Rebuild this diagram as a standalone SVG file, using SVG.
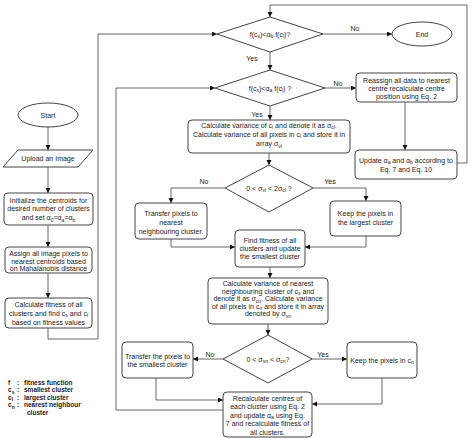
<svg xmlns="http://www.w3.org/2000/svg" width="474" height="438" viewBox="0 0 474 438">
<style>
text{font-family:"Liberation Sans",Arial,sans-serif;font-size:7px;fill:#222;text-anchor:middle}
.sh{fill:#fff;stroke:#444;stroke-width:1}
.ln{fill:none;stroke:#666;stroke-width:1}
.lg{text-anchor:start;font-weight:bold;font-size:6.5px}
.s{font-size:5px}
</style>
<defs>
<marker id="a" markerWidth="6" markerHeight="6" refX="5" refY="2.5" orient="auto" markerUnits="userSpaceOnUse">
<path d="M0,0 L5,2.5 L0,5 z" fill="#111"/>
</marker>
</defs>
<rect width="474" height="438" fill="#fff"/>
<g id="connectors">
<path class="ln" d="M48,127 V150" marker-end="url(#a)"/>
<path class="ln" d="M48,167 V193" marker-end="url(#a)"/>
<path class="ln" d="M48,225 V247" marker-end="url(#a)"/>
<path class="ln" d="M48,273 V298" marker-end="url(#a)"/>
<path class="ln" d="M48,328 V339 H98 V34 H217" marker-end="url(#a)"/>
<path class="ln" d="M323,34 H392" marker-end="url(#a)"/>
<path class="ln" d="M270,52 V70" marker-end="url(#a)"/>
<path class="ln" d="M325,88 H356" marker-end="url(#a)"/>
<path class="ln" d="M405,102 V150" marker-end="url(#a)"/>
<path class="ln" d="M457,163 H467 V5 H270 V17" marker-end="url(#a)"/>
<path class="ln" d="M270,106 V120" marker-end="url(#a)"/>
<path class="ln" d="M269,153 V165" marker-end="url(#a)"/>
<path class="ln" d="M225,188 H171 V203" marker-end="url(#a)"/>
<path class="ln" d="M313,188 H366 V201" marker-end="url(#a)"/>
<path class="ln" d="M171,239 V247 H235" marker-end="url(#a)"/>
<path class="ln" d="M366,236 V247 H305" marker-end="url(#a)"/>
<path class="ln" d="M270,267 V278" marker-end="url(#a)"/>
<path class="ln" d="M268,324 V335" marker-end="url(#a)"/>
<path class="ln" d="M223,359 H193" marker-end="url(#a)"/>
<path class="ln" d="M312,359 H347" marker-end="url(#a)"/>
<path class="ln" d="M156,378 V400 H223" marker-end="url(#a)"/>
<path class="ln" d="M382,378 V404 H312" marker-end="url(#a)"/>
<path class="ln" d="M223,410 H116 V88 H215" marker-end="url(#a)"/>
<text x="355" y="31">No</text>
<text x="252" y="61">Yes</text>
<text x="338" y="86">No</text>
<text x="257" y="117">Yes</text>
<text x="204" y="184">No</text>
<text x="330" y="184">Yes</text>
<text x="210" y="357">No</text>
<text x="323" y="357">Yes</text>
</g>
<g id="start"><ellipse class="sh" cx="48" cy="115" rx="30" ry="12"/><text x="48" y="117.5">Start</text></g>
<g id="upload"><polygon class="sh" points="18,150 93,150 78,167 3,167"/><text x="48" y="161">Upload an Image</text></g>
<g id="init"><rect class="sh" x="4" y="193" width="89" height="32" rx="4"/>
<text x="48.5" y="202.5">Initialize the centroids for</text>
<text x="48.5" y="211">desired number of clusters</text>
<text x="48.5" y="220">and set α<tspan class="s" dy="1.5">0</tspan><tspan dy="-1.5">=α</tspan><tspan class="s" dy="1.5">a</tspan><tspan dy="-1.5">=α</tspan><tspan class="s" dy="1.5">b</tspan></text></g>
<g id="assign"><rect class="sh" x="5" y="247" width="87" height="26" rx="4"/>
<text x="48.5" y="255.5">Assign all image pixels to</text>
<text x="48.5" y="263.5">nearest centroids based</text>
<text x="48.5" y="271">on Mahalanobis distance</text></g>
<g id="fitness"><rect class="sh" x="5" y="298" width="87" height="30" rx="4"/>
<text x="48.5" y="306.5">Calculate fitness of all</text>
<text x="48.5" y="315.5">clusters and find c<tspan class="s" dy="1.5">s</tspan><tspan dy="-1.5"> and c</tspan><tspan class="s" dy="1.5">l</tspan></text>
<text x="48.5" y="325">based on fitness values</text></g>
<g id="d1"><polygon class="sh" points="217,34 270,17 323,34 270,52"/>
<text x="270" y="36.5">f(c<tspan class="s" dy="1.5">s</tspan><tspan dy="-1.5">)&lt;α</tspan><tspan class="s" dy="1.5">b</tspan><tspan dy="-1.5"> f(c</tspan><tspan class="s" dy="1.5">l</tspan><tspan dy="-1.5">)?</tspan></text></g>
<g id="end"><ellipse class="sh" cx="422" cy="34" rx="30" ry="12"/><text x="422" y="36.5">End</text></g>
<g id="d2"><polygon class="sh" points="215,88 270,70 325,88 270,106"/>
<text x="270" y="90.5">f(c<tspan class="s" dy="1.5">s</tspan><tspan dy="-1.5">)&lt;α</tspan><tspan class="s" dy="1.5">a</tspan><tspan dy="-1.5"> f(c</tspan><tspan class="s" dy="1.5">l</tspan><tspan dy="-1.5">) ?</tspan></text></g>
<g id="reassign"><rect class="sh" x="356" y="73" width="101" height="29" rx="4"/>
<text x="406.5" y="82.5">Reassign all data to nearest</text>
<text x="406.5" y="90.5">centre recalculate centre</text>
<text x="406.5" y="99">position using Eq. 2</text></g>
<g id="update"><rect class="sh" x="355" y="150" width="102" height="29" rx="4"/>
<text x="406" y="162.5">Update α<tspan class="s" dy="1.5">a</tspan><tspan dy="-1.5"> and α</tspan><tspan class="s" dy="1.5">b</tspan><tspan dy="-1.5"> according to</tspan></text>
<text x="406" y="171.5">Eq. 7 and Eq. 10</text></g>
<g id="var1"><rect class="sh" x="188" y="120" width="162" height="33" rx="4"/>
<text x="269" y="127.5">Calculate variance of c<tspan class="s" dy="1.5">l</tspan><tspan dy="-1.5"> and denote it as σ</tspan><tspan class="s" dy="1.5">cl</tspan><tspan dy="-1.5">.</tspan></text>
<text x="269" y="136.5">Calculate variance of all pixels in c<tspan class="s" dy="1.5">l</tspan><tspan dy="-1.5"> and store it in</tspan></text>
<text x="269" y="146">array σ<tspan class="s" dy="1.5">vl</tspan></text></g>
<g id="d3"><polygon class="sh" points="225,188 269,165 313,188 269,212"/>
<text x="269" y="190.5">0 &lt; σ<tspan class="s" dy="1.5">vl</tspan><tspan dy="-1.5"> &lt; 2σ</tspan><tspan class="s" dy="1.5">cl</tspan><tspan dy="-1.5"> ?</tspan></text></g>
<g id="transfer1"><rect class="sh" x="135" y="203" width="72" height="36" rx="4"/>
<text x="171" y="215.5">Transfer pixels to</text>
<text x="171" y="224.5">nearest</text>
<text x="171" y="233.5">neighbouring cluster.</text></g>
<g id="keep1"><rect class="sh" x="330" y="201" width="71" height="35" rx="4"/>
<text x="365.5" y="215.5">Keep the pixels in</text>
<text x="365.5" y="224.5">the largest cluster</text></g>
<g id="find"><rect class="sh" x="235" y="230" width="70" height="37" rx="4"/>
<text x="270" y="242.5">Find fitness of all</text>
<text x="270" y="250.5">clusters and update</text>
<text x="270" y="258.5">the smallest cluster</text></g>
<g id="var2"><rect class="sh" x="208" y="278" width="120" height="46" rx="4"/>
<text x="268" y="285.5">Calculate variance of nearest</text>
<text x="268" y="293.5">neighbouring cluster of c<tspan class="s" dy="1.5">s</tspan><tspan dy="-1.5">  and</tspan></text>
<text x="268" y="301">denote it as σ<tspan class="s" dy="1.5">cn</tspan><tspan dy="-1.5">. Calculate variance</tspan></text>
<text x="268" y="308.5">of all pixels in c<tspan class="s" dy="1.5">n</tspan><tspan dy="-1.5"> and store it in array</tspan></text>
<text x="268" y="316">denoted by σ<tspan class="s" dy="1.5">vn</tspan></text></g>
<g id="d4"><polygon class="sh" points="223,359 268,335 312,359 268,383"/>
<text x="268" y="361.5">0 &lt; σ<tspan class="s" dy="1.5">vn</tspan><tspan dy="-1.5"> &lt; σ</tspan><tspan class="s" dy="1.5">cn</tspan><tspan dy="-1.5">?</tspan></text></g>
<g id="transfer2"><rect class="sh" x="122" y="342" width="71" height="36" rx="4"/>
<text x="157.5" y="358.5">Transfer the pixels to</text>
<text x="157.5" y="366.5">the smallest cluster</text></g>
<g id="keep2"><rect class="sh" x="347" y="342" width="70" height="36" rx="4"/>
<text x="382" y="362.5">Keep the pixels in c<tspan class="s" dy="1.5">n</tspan></text></g>
<g id="recalc"><rect class="sh" x="223" y="392" width="89" height="45" rx="4"/>
<text x="267.5" y="400.5">Recalculate  centres of</text>
<text x="267.5" y="409">each cluster  using Eq. 2</text>
<text x="267.5" y="417.5">and update α<tspan class="s" dy="1.5">a</tspan><tspan dy="-1.5"> using Eq.</tspan></text>
<text x="267.5" y="426">7 and recalculate fitness of</text>
<text x="267.5" y="434.5">all clusters.</text></g>
<g id="legend">
<text class="lg" x="8" y="384.5">f</text><text class="lg" x="17" y="384.5">:</text><text class="lg" x="24" y="384.5">fitness function</text>
<text class="lg" x="8" y="392">c<tspan class="s" dy="1.5">s</tspan></text><text class="lg" x="17" y="392">:</text><text class="lg" x="24" y="392">smallest cluster</text>
<text class="lg" x="8" y="399.5">c<tspan class="s" dy="1.5">l</tspan></text><text class="lg" x="17" y="399.5">:</text><text class="lg" x="24" y="399.5">largest cluster</text>
<text class="lg" x="8" y="407">c<tspan class="s" dy="1.5">n</tspan></text><text class="lg" x="17" y="407">:</text><text class="lg" x="24" y="407">nearest neighbour</text>
<text class="lg" x="27" y="414.5">cluster</text>
</g>
</svg>
